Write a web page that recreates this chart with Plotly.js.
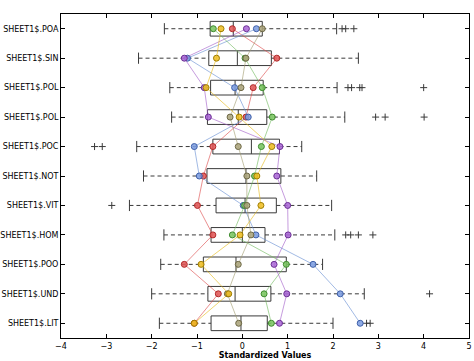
<!DOCTYPE html>
<html>
<head>
<meta charset="utf-8">
<script src="https://cdn.plot.ly/plotly-3.0.1.min.js"></script>
<style>html,body{margin:0;padding:0;background:#fff;}#chart{width:474px;height:361px;}</style>
</head>
<body>
<div id="chart"></div>
<script>
// Categories, top to bottom
const categories = ["SHEET1$.POA","SHEET1$.SIN","SHEET1$.POL","SHEET1$.POL","SHEET1$.POC","SHEET1$.NOT","SHEET1$.VIT","SHEET1$.HOM","SHEET1$.POO","SHEET1$.UND","SHEET1$.LIT"];
// Box statistics (standardized values)
const q1Values     = [-0.71,-0.74,-0.70,-0.77,-0.65,-0.78,-0.58,-0.69,-0.86,-0.76,-0.69];
const medianValues = [-0.20,-0.11,-0.16,-0.09, 0.20, 0.08, 0.06, 0.00,-0.14,-0.16,-0.03];
const q3Values     = [ 0.44, 0.64, 0.46, 0.54, 0.82, 0.85, 0.75, 0.50, 0.97, 0.63, 0.55];
const lowerWhisker = [-1.72,-2.29,-1.60,-1.56,-2.33,-2.18,-2.49,-1.73,-1.80,-2.00,-1.83];
const upperWhisker = [ 2.08, 2.56, 2.09, 2.26, 1.31, 1.64, 1.97, 2.04, 1.77, 2.69, 2.00];
const outlierValues = [
  [2.20,2.28,2.46],
  [],
  [2.33,2.41,2.59,2.64,4.00],
  [2.94,3.15,4.01],
  [-3.26,-3.09],
  [],
  [-2.88],
  [2.28,2.39,2.56,2.88],
  [],
  [4.13],
  [2.74,2.82]
];
// Profile series (one value per category, top to bottom)
const seriesRed    = [-0.22, 0.76, 0.24, 0.08,-0.65,-0.86,-0.99,-0.65,-1.28,-0.53,-1.06];
const seriesBlue   = [ 0.31,-1.21,-0.17, 0.13,-1.06,-0.95, 0.02, 0.30, 1.56, 2.16, 2.60];
const seriesGreen  = [-0.64, 0.06, 0.44, 0.66, 0.42, 0.27, 0.05,-0.22, 0.97, 0.48, 0.64];
const seriesPurple = [ 0.09,-1.28,-0.84,-0.75, 0.83, 0.76, 1.00, 1.01, 0.70, 0.98, 0.82];
const seriesOlive  = [ 0.44, 0.08,-0.03,-0.27,-0.09, 0.10, 0.10, 0.19,-0.09,-0.33,-0.08];
const seriesYellow = [-0.47,-0.57,-0.80,-0.07, 0.65, 0.32, 0.41,-0.05,-0.91,-0.30,-1.06];
const xTickValues = [-4,-3,-2,-1,0,1,2,3,4,5];

const n = categories.length;
const pos = categories.map((c,i)=> n - i);
const dark = '#3a3a3a';
const traces = [];

// whiskers (dashed)
const wx = [], wy = [];
for (let i=0;i<n;i++){
  wx.push(lowerWhisker[i], q1Values[i], null, q3Values[i], upperWhisker[i], null);
  wy.push(pos[i], pos[i], null, pos[i], pos[i], null);
}
traces.push({type:'scatter', mode:'lines', x:wx, y:wy, line:{color:dark, width:1, dash:'4px,3px'}, hoverinfo:'skip', showlegend:false});
// caps
const cx = [], cy = [];
for (let i=0;i<n;i++){ cx.push(lowerWhisker[i], upperWhisker[i]); cy.push(pos[i], pos[i]); }
traces.push({type:'scatter', mode:'markers', x:cx, y:cy, marker:{symbol:'line-ns-open', size:8, color:dark, line:{color:dark, width:1}}, hoverinfo:'skip', showlegend:false});
// boxes
traces.push({type:'box', orientation:'h', y:pos, q1:q1Values, median:medianValues, q3:q3Values,
  lowerfence:q1Values, upperfence:q3Values, width:0.5, whiskerwidth:0,
  fillcolor:'rgba(255,255,255,0)', line:{color:dark, width:1}, boxpoints:false, hoverinfo:'skip', showlegend:false});
// outliers
const ox = [], oy = [];
outlierValues.forEach((arr,i)=> arr.forEach(v=>{ ox.push(v); oy.push(pos[i]); }));
traces.push({type:'scatter', mode:'markers', x:ox, y:oy, marker:{symbol:'cross-thin-open', size:5, color:dark, line:{color:dark, width:1}}, hoverinfo:'skip', showlegend:false});

// profiles
const series = [
  [seriesRed,   'rgba(220,70,70,0.6)',  'rgba(224,85,85,0.85)',  '#b02a2a'],
  [seriesBlue,  'rgba(100,140,210,0.6)','rgba(123,156,224,0.85)','#3e5fa8'],
  [seriesGreen, 'rgba(110,185,90,0.6)', 'rgba(120,196,94,0.85)', '#3d8a2d'],
  [seriesPurple,'rgba(160,90,200,0.6)', 'rgba(169,102,214,0.85)','#6b2e94'],
  [seriesOlive, 'rgba(160,155,110,0.6)','rgba(170,163,122,0.85)','#6d6845'],
  [seriesYellow,'rgba(230,185,20,0.6)', 'rgba(238,189,34,0.85)', '#a07e00']
];
series.forEach(s=>{
  traces.push({type:'scatter', mode:'lines+markers', x:s[0], y:pos,
    line:{color:s[1], width:1},
    marker:{size:6, color:s[2], line:{color:s[3], width:1}},
    hoverinfo:'skip', showlegend:false});
});

const layout = {
  width:474, height:361,
  margin:{l:61, r:5, t:14, b:23},
  paper_bgcolor:'#fff', plot_bgcolor:'#fff',
  font:{family:'DejaVu Sans', size:8, color:'#000'},
  showlegend:false,
  xaxis:{range:[-4,5], tickvals:xTickValues, ticks:'inside', ticklen:4, tickcolor:'#000',
    showline:true, linecolor:'#000', linewidth:1, mirror:'ticks', showgrid:false, zeroline:false,
    title:{text:'<b>Standardized Values</b>', font:{size:8}, standoff:1}},
  yaxis:{range:[0.5,11.5], tickvals:pos, ticktext:categories, ticks:'inside', ticklen:4, tickcolor:'#000',
    showline:true, linecolor:'#000', linewidth:1, mirror:'ticks', showgrid:false, zeroline:false}
};
Plotly.newPlot('chart', traces, layout, {staticPlot:true, displayModeBar:false});
</script>
</body>
</html>
